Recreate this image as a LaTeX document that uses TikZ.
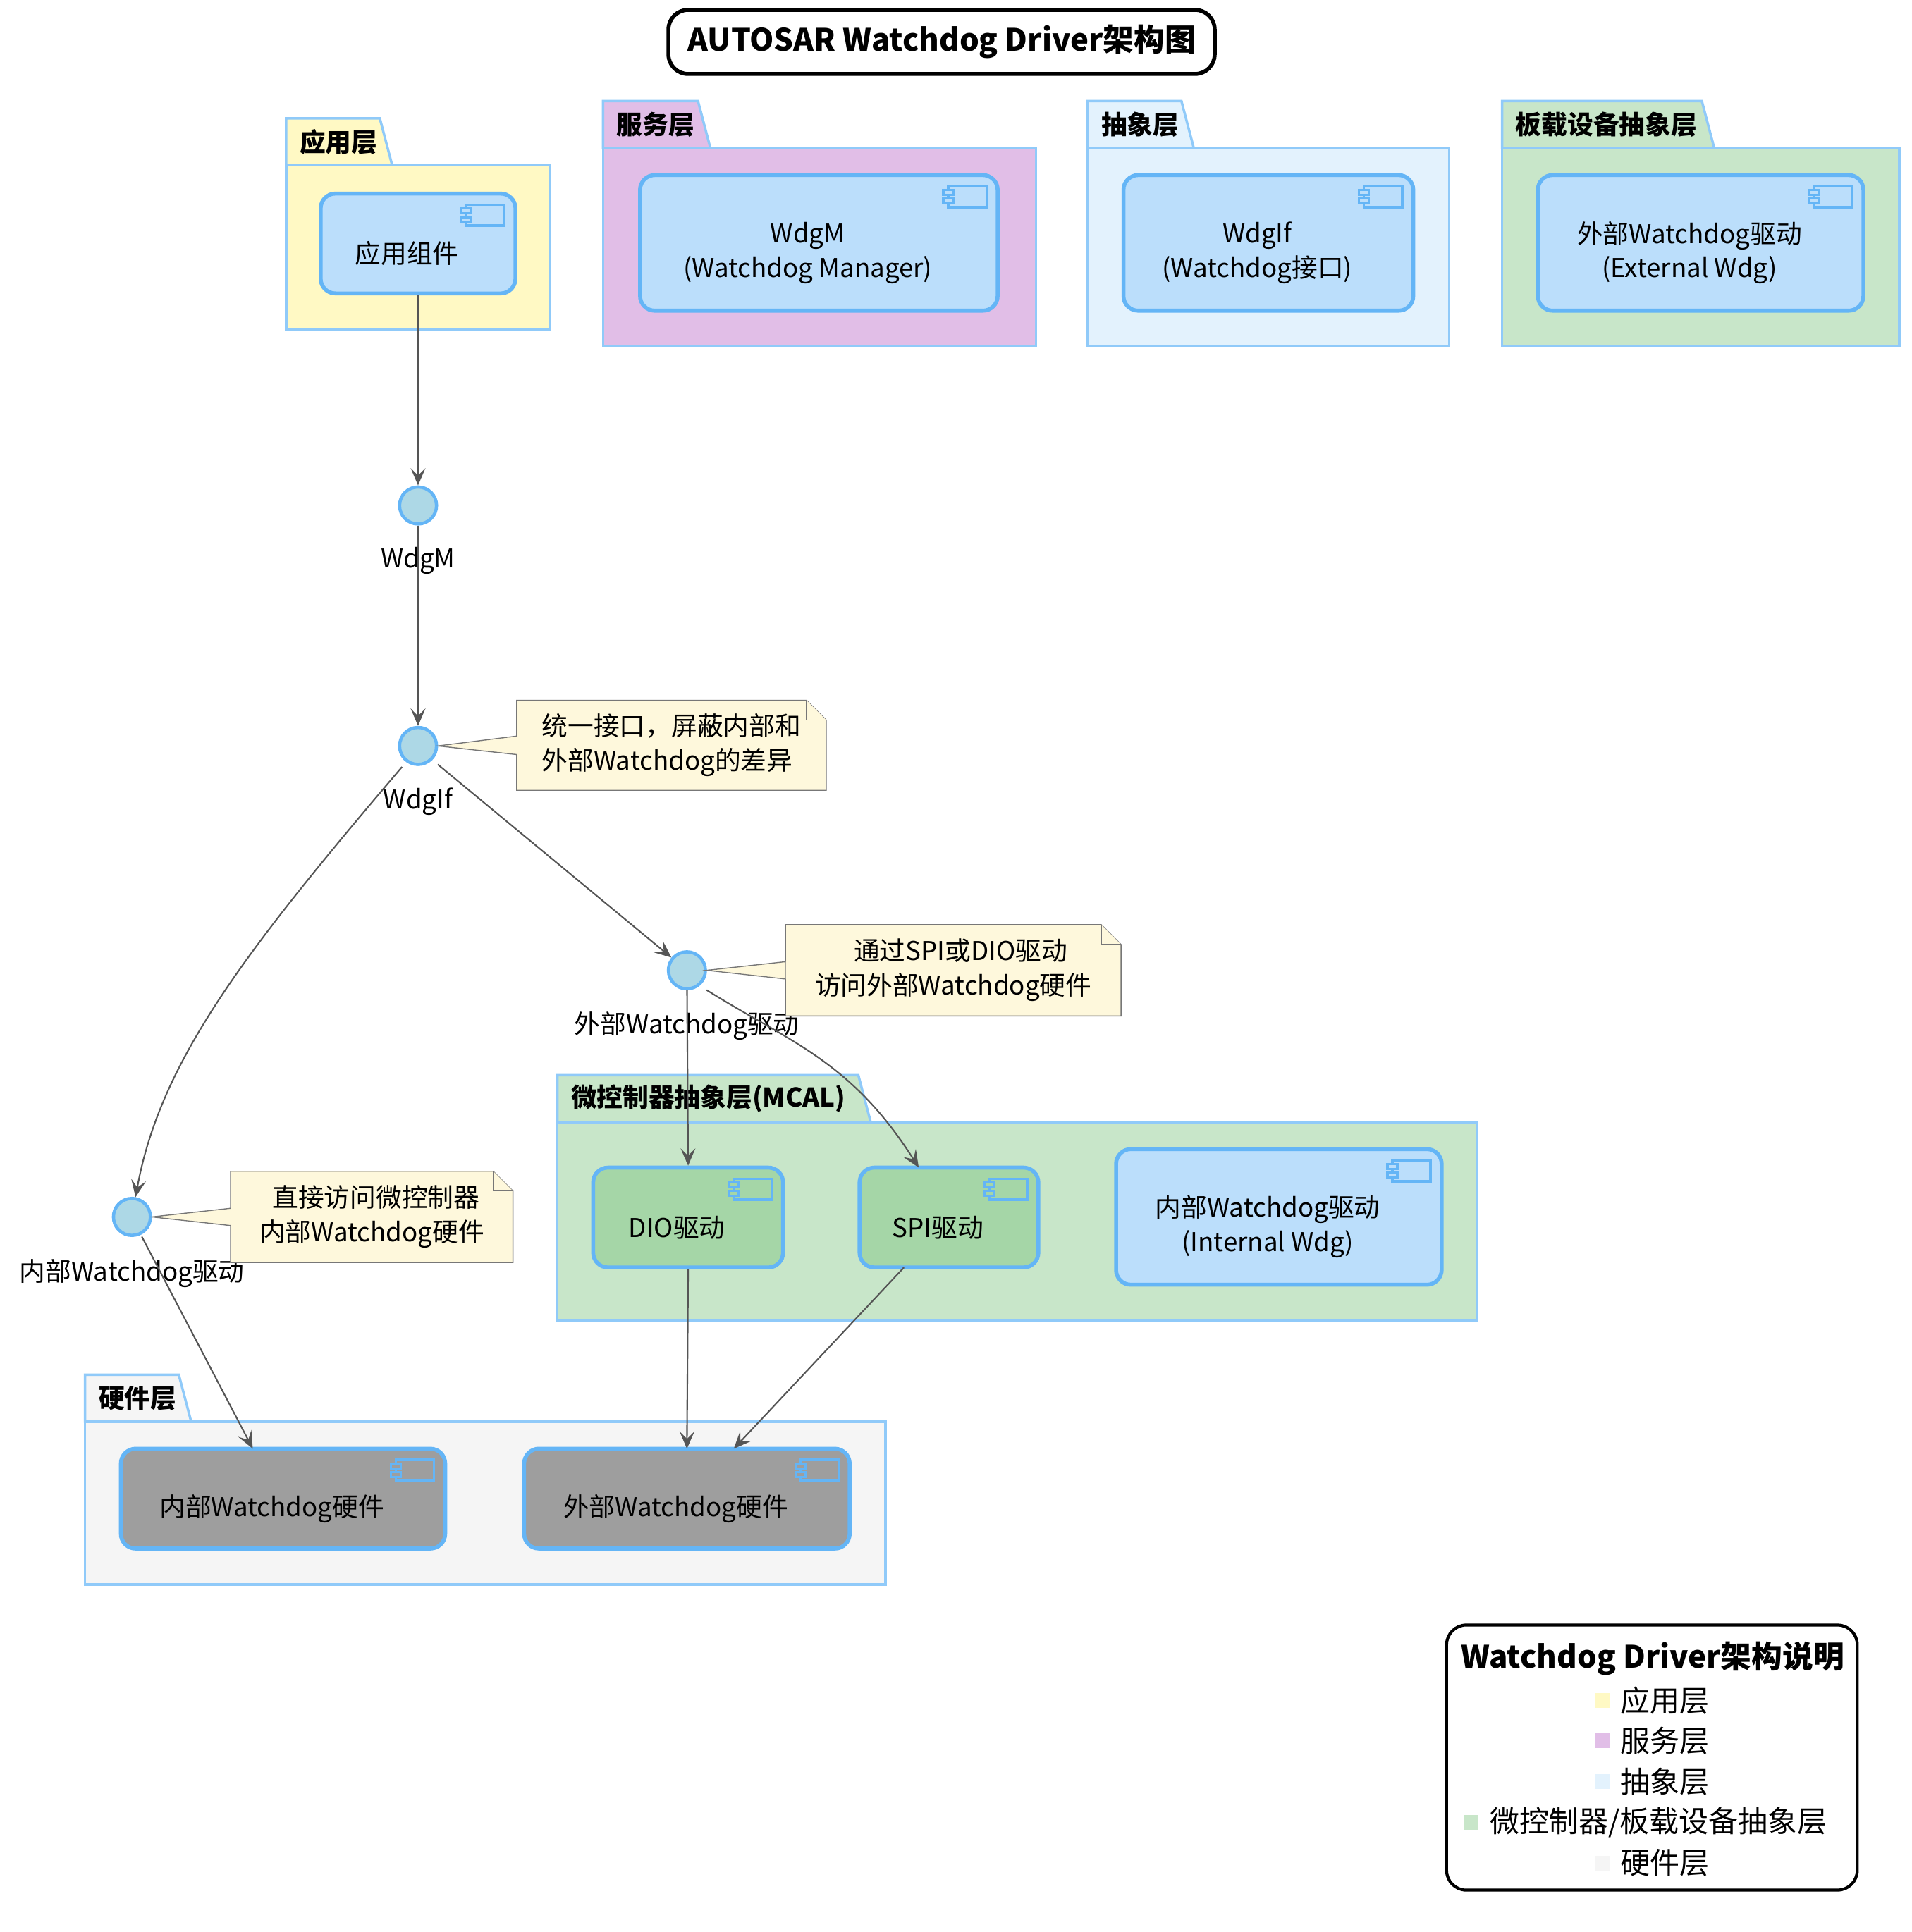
\documentclass[tikz,border=0pt]{standalone}
\usepackage{fontspec}
\setmainfont{Noto Sans CJK SC}
\usetikzlibrary{arrows.meta,fit}
\definecolor{bd}{HTML}{64B5F6}
\definecolor{pbd}{HTML}{90CAF9}
\definecolor{cblue}{HTML}{BBDEFB}
\definecolor{cgreen}{HTML}{A5D6A7}
\definecolor{cgray}{HTML}{9E9E9E}
\definecolor{pyel}{HTML}{FFF9C4}
\definecolor{ppur}{HTML}{E1BEE7}
\definecolor{plblue}{HTML}{E3F2FD}
\definecolor{pgreen}{HTML}{C8E6C9}
\definecolor{pgray}{HTML}{F5F5F5}
\definecolor{notef}{HTML}{FEF8DC}
\definecolor{arr}{HTML}{555555}
\definecolor{ifc}{HTML}{ADD8E6}
\tikzset{x=0.5pt,y=-0.5pt,
 comp/.style={draw=bd,line width=1.6pt,rounded corners=6pt,inner sep=0pt},
 ctext/.style={align=center,font=\fontsize{10.5}{14}\selectfont},
 pkg/.style={draw=pbd,line width=1pt},
 ifce/.style={circle,draw=bd,fill=ifc,line width=1.3pt,minimum size=15pt,inner sep=0pt},
 lab/.style={font=\fontsize{10.5}{12}\selectfont},
 con/.style={draw=arr,line width=0.6pt,-{Stealth[length=7pt,width=6pt,inset=3pt]}},
 note/.style={draw=arr!80,fill=notef,line width=0.4pt},
 notet/.style={font=\fontsize{10.5}{14}\selectfont,align=left},
 legi/.style={anchor=west,font=\fontsize{12}{14}\selectfont}}
\newcommand{\wdcomp}[7]{%
 \node[comp,fill=#6,fit={(#2,#3) (#4,#5)}] (#1) {};
 \node[ctext] at ([xshift=-4.5pt,yshift=-4pt]#1.center) {#7};
 \draw[bd,fill=#6,line width=1pt] (#4-40,#3+9) rectangle (#4-9,#3+26);
 \draw[bd,fill=#6,line width=1pt] (#4-44,#3+12) rectangle (#4-36,#3+16);
 \draw[bd,fill=#6,line width=1pt] (#4-44,#3+19) rectangle (#4-36,#3+23);}
\newcommand{\wdpkg}[8]{%
 \draw[pkg,fill=#7] (#1,#4)--(#1,#3)--(#2-10,#3)--(#2,#4)--cycle;
 \draw[pkg,fill=#7] (#1,#4) rectangle (#5,#6);
 \node[anchor=west,font=\bfseries\fontsize{10.5}{12}\selectfont] at (#1+4,#3+19) {#8};}
\newcommand{\wdnote}[6]{% x1,y1,x2,y2,name,text
 \draw[note] (#1,#2)--(#3-16,#2)--(#3,#2+16)--(#3,#4)--(#1,#4)--cycle;
 \draw[note] (#3-16,#2)--(#3-16,#2+16)--(#3,#2+16);
 \node[notet] (#5) at ({(#1+#3)/2},{(#2+#4)/2}) {#6};}
\newcommand{\wdleg}[4]{% color,x,y,text
 \fill[#1] (#2-6,#3-6) rectangle (#2+6,#3+6);
 \node[legi] at (#2+8,#3) {#4};}
\begin{document}
\begin{tikzpicture}
\useasboundingbox[fill=white] (0,0) rectangle (1550,1567);
% title
\node[draw=black,line width=1.6pt,rounded corners=8pt,fit={(542,8) (985,60)},inner sep=0pt] (title) {};
\node[font=\bfseries\fontsize{12.5}{14}\selectfont] at (title.center) {AUTOSAR Watchdog Driver架构图};
% packages
\wdpkg{232}{318}{96}{134}{446}{267}{pyel}{应用层}
\wdpkg{489}{576}{82}{120}{840}{281}{ppur}{服务层}
\wdpkg{882}{968}{82}{120}{1175}{281}{plblue}{抽象层}
\wdpkg{1218}{1390}{82}{120}{1540}{281}{pgreen}{板载设备抽象层}
\wdpkg{452}{706}{872}{910}{1198}{1071}{pgreen}{微控制器抽象层(MCAL)}
\wdpkg{69}{155}{1115}{1153}{718}{1285}{pgray}{硬件层}
% components
\wdcomp{app}{260}{157}{418}{238}{cblue}{应用组件}
\wdcomp{wdgm}{519}{142}{809}{252}{cblue}{WdgM\\(Watchdog Manager)}
\wdcomp{wdgif}{911}{142}{1146}{252}{cblue}{WdgIf\\(Watchdog接口)}
\wdcomp{extw}{1247}{142}{1511}{252}{cblue}{外部Watchdog驱动\\(External Wdg)}
\wdcomp{dio}{481}{947}{635}{1028}{cgreen}{DIO驱动}
\wdcomp{spi}{697}{947}{842}{1028}{cgreen}{SPI驱动}
\wdcomp{intw}{905}{932}{1169}{1042}{cblue}{内部Watchdog驱动\\(Internal Wdg)}
\wdcomp{inthw}{98}{1175}{361}{1256}{cgray}{内部Watchdog硬件}
\wdcomp{exthw}{425}{1175}{689}{1256}{cgray}{外部Watchdog硬件}
% interfaces
\node[ifce] (iM) at (339,410) {};
\node[lab] at (339,455) {WdgM};
\node[ifce] (iIf) at (339,605) {};
\node[lab] at (339,650) {WdgIf};
\node[ifce] (iExt) at (557,787) {};
\node[lab] at (557,832) {外部Watchdog驱动};
\node[ifce] (iInt) at (107,987) {};
\node[lab] at (107,1033) {内部Watchdog驱动};
% notes
\wdnote{419}{568}{670}{641}{n1}{统一接口，屏蔽内部和\\外部Watchdog的差异}
\draw[note] (419,597)--(355,605)--(419,612);
\wdnote{637}{750}{909}{824}{n2}{\hspace*{1.5em}通过SPI或DIO驱动\\访问外部Watchdog硬件}
\draw[note] (637,780)--(573,787)--(637,794);
\wdnote{187}{950}{416}{1024}{n3}{\hspace*{0.5em}直接访问微控制器\\内部Watchdog硬件}
\draw[note] (187,980)--(123,987)--(187,994);
% connectors
\draw[con] (app.south) -- (iM);
\draw[con] (iM) -- (iIf);
\draw[con] (355,620) -- (iExt);
\draw[con] (326,622) .. controls (200,770) and (130,860) .. (iInt);
\draw[con] (iExt) -- (dio.north);
\draw[con] (573,803) .. controls (640,845) and (690,860) .. (745,947);
\draw[con] (115,1003) -- (205,1175);
\draw[con] (dio.south) -- (557,1175);
\draw[con] (733,1028) -- (595,1175);
% legend
\draw[black,line width=1.2pt,rounded corners=8pt] (1173,1318) rectangle (1506,1533);
\node[font=\bfseries\fontsize{12.5}{14}\selectfont] (lt) at (1340,1345) {Watchdog Driver架构说明};
\wdleg{pyel}{1299}{1379}{应用层}
\wdleg{ppur}{1299}{1412}{服务层}
\wdleg{plblue}{1299}{1445}{抽象层}
\wdleg{pgreen}{1193}{1478}{微控制器/板载设备抽象层}
\wdleg{pgray}{1299}{1511}{硬件层}
\end{tikzpicture}
\end{document}
